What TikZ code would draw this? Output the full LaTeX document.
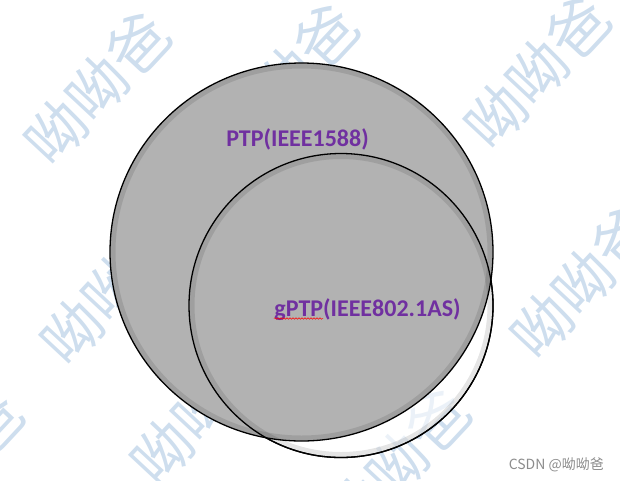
\documentclass[tikz,border=0pt]{standalone}
\usepackage{fontspec}
\setmainfont{Carlito}
\newfontfamily\cjkfont{Noto Sans CJK SC}
\usepackage{xcolor}
\usepackage{tikz}
\usetikzlibrary{shapes.geometric, decorations.pathmorphing}
\definecolor{setgray}{RGB}{178,178,178}
\definecolor{labelpurple}{RGB}{112,48,160}
\definecolor{markblue}{RGB}{206,222,238}
\definecolor{creditgray}{RGB}{140,140,140}
\tikzstyle{bigset} = [ellipse, minimum width=383pt, minimum height=378pt, inner sep=0pt, draw=black, line width=1.3pt, fill=setgray]
\tikzstyle{smallset} = [circle, minimum size=304pt, inner sep=0pt, draw=black, line width=1.3pt, fill=white, fill opacity=0.6]
\tikzstyle{setlabel} = [anchor=base, inner sep=0pt, text=labelpurple, font=\fontsize{24}{28}\selectfont\bfseries]
\tikzstyle{wmark} = [rotate=47, inner sep=0pt, text=markblue, font=\cjkfont\fontsize{60}{60}\selectfont]
\tikzstyle{bevel} = [line width=5pt, black, opacity=0.10]

\begin{document}
\begin{tikzpicture}[x=1pt, y=-1pt]
    \useasboundingbox (0,0) rectangle (620,480);
    % watermarks behind the sets
    \node(wmA)[wmark] at (97,88) {呦呦爸};
    \node(wmB)[wmark] at (285,80) {呦呦爸};
    \node(wmC)[wmark] at (537,72) {呦呦爸};
    \node(wmD)[wmark] at (113,288) {呦呦爸};
    \node(wmE)[wmark] at (583,282) {呦呦爸};
    \node(wmF)[wmark] at (-50,467) {呦呦爸};
    \node(wmG)[wmark] at (203,408) {呦呦爸};
    \node(wmH)[wmark] at (397,465) {呦呦爸};
    %
    \node(gptpset)[smallset] at (341,305.5) {};
    \node(ptpset)[bigset] at (301.5,252) {};
    \draw[bevel] (ptpset.center) ellipse [x radius=188.5, y radius=186];
    \draw[line width=1.3pt] (gptpset.center) circle [radius=152];
    \draw[bevel] (gptpset.center) circle [radius=149];
    %
    \node(ptp)[setlabel] at (297.5,146) {PTP(IEEE1588)};
    \node(gptp)[setlabel] at (367.5,316) {gPTP(IEEE802.1AS)};
    \draw[red, line width=0.5pt, decorate, decoration={snake, amplitude=0.8pt, segment length=3pt}] (274,318.5) -- (323,318.5);
    %
    \node(credit)[anchor=base east, inner sep=0pt, text=creditgray, font=\cjkfont\fontsize{14}{16}\selectfont] at (604,469) {CSDN @呦呦爸};
\end{tikzpicture}
\end{document}
